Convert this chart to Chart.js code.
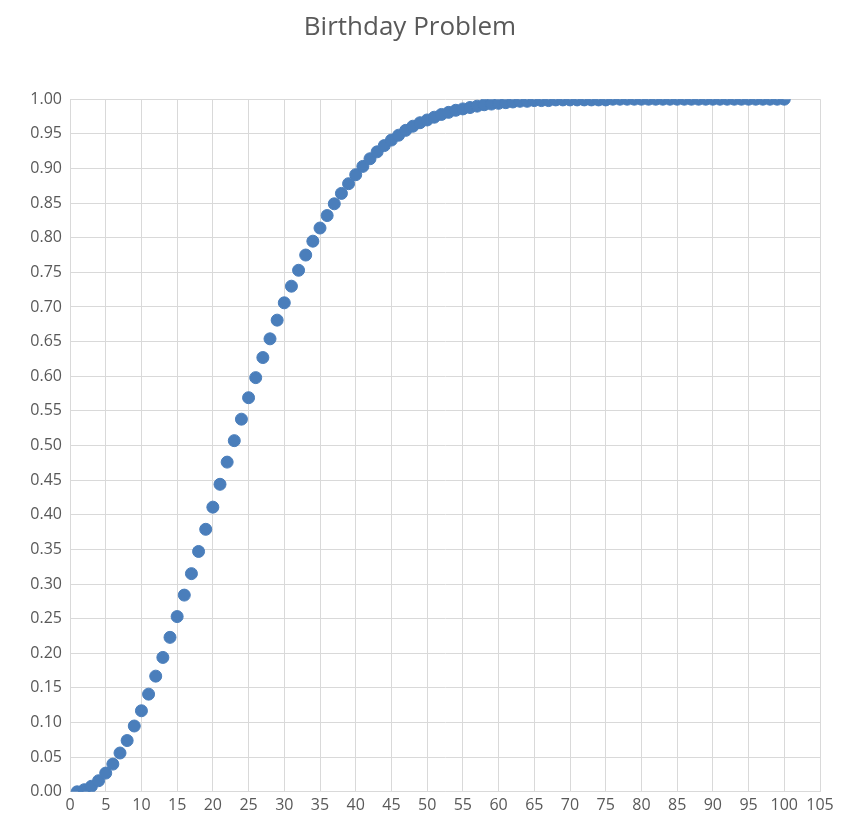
<!DOCTYPE html>
<html>
<head>
<meta charset="utf-8">
<script src="https://cdn.jsdelivr.net/npm/chart.js@4"></script>
<style>
  html, body { margin: 0; padding: 0; background: #fff; }
  #wrap { width: 842px; height: 839px; }
</style>
</head>
<body>
<div id="wrap"><canvas id="chart" width="842" height="839"></canvas></div>
<script>
// group size (people in the room)
const people = [];
for (let i = 1; i <= 100; i++) people.push(i);

// probability that at least two share a birthday
const probability = [
  0.000, 0.003, 0.008, 0.016, 0.027, 0.040, 0.056, 0.074, 0.095, 0.117,
  0.141, 0.167, 0.194, 0.223, 0.253, 0.284, 0.315, 0.347, 0.379, 0.411,
  0.444, 0.476, 0.507, 0.538, 0.569, 0.598, 0.627, 0.654, 0.681, 0.706,
  0.730, 0.753, 0.775, 0.795, 0.814, 0.832, 0.849, 0.864, 0.878, 0.891,
  0.903, 0.914, 0.924, 0.933, 0.941, 0.948, 0.955, 0.961, 0.966, 0.970,
  0.974, 0.978, 0.981, 0.984, 0.986, 0.988, 0.990, 0.992, 0.993, 0.994,
  0.995, 0.996, 0.997, 0.997, 0.998, 0.998, 0.998, 0.999, 0.999, 0.999,
  0.999, 0.999, 0.999, 0.999, 0.999, 1.000, 1.000, 1.000, 1.000, 1.000,
  1.000, 1.000, 1.000, 1.000, 1.000, 1.000, 1.000, 1.000, 1.000, 1.000,
  1.000, 1.000, 1.000, 1.000, 1.000, 1.000, 1.000, 1.000, 1.000, 1.000
];

const points = people.map((p, i) => ({ x: p, y: probability[i] }));

const tickFont = { family: '"Open Sans", "Liberation Sans", sans-serif', size: 16 };

new Chart(document.getElementById('chart').getContext('2d'), {
  type: 'scatter',
  data: {
    datasets: [{
      label: 'Probability',
      data: points,
      backgroundColor: '#4a7ebb',
      borderColor: '#4a7ebb',
      pointRadius: 6,
      pointHoverRadius: 6
    }]
  },
  options: {
    responsive: false,
    animation: false,
    layout: { padding: { left: 0, right: 22, top: 12, bottom: 20 } },
    plugins: {
      legend: { display: false },
      tooltip: { enabled: false },
      title: {
        display: true,
        text: 'Birthday Problem',
        color: '#595959',
        font: { family: '"Open Sans", "Liberation Sans", sans-serif', size: 26, weight: 'normal' },
        padding: { top: 0, bottom: 56 }
      }
    },
    scales: {
      x: {
        type: 'linear',
        min: 0, max: 105,
        ticks: { stepSize: 5, color: '#595959', font: tickFont, padding: 4, maxRotation: 0 },
        grid: { color: '#d9d9d9', drawTicks: false },
        border: { color: '#d9d9d9' }
      },
      y: {
        min: 0, max: 1,
        ticks: {
          stepSize: 0.05, color: '#595959', font: tickFont, padding: 8,
          callback: v => v.toFixed(2)
        },
        grid: { color: '#d9d9d9', drawTicks: false },
        border: { color: '#d9d9d9' },
        afterFit: s => { s.width = 70; }
      }
    }
  }
});
</script>
</body>
</html>
